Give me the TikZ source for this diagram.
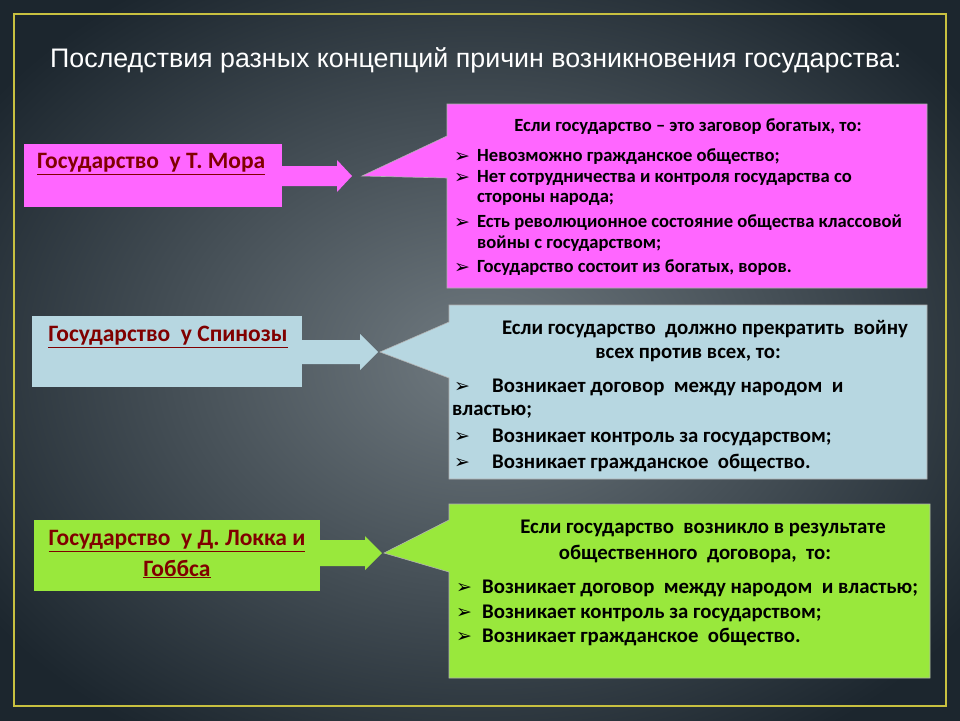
\documentclass[tikz,border=0pt]{standalone}
\usepackage{fontspec}
\setmainfont{Carlito}
\newfontfamily\titlefont{Liberation Sans}
\newfontfamily\symfont{DejaVu Sans}
\usetikzlibrary{shadings}
\definecolor{mag}{HTML}{FF66FF}
\definecolor{lblue}{HTML}{B7D7E1}
\definecolor{lgreen}{HTML}{99E83C}
\definecolor{dred}{HTML}{800000}
\definecolor{frame}{HTML}{C8C040}
\tikzset{
  lbl/.style={font=\bfseries\fontsize{23.5}{26}\selectfont, text=dred, inner sep=0pt},
  hd/.style={font=\bfseries\fontsize{18.6}{20}\selectfont, inner sep=0pt},
  it/.style={font=\bfseries\fontsize{18.6}{20}\selectfont, inner sep=0pt, anchor=west},
  hdb/.style={font=\bfseries\fontsize{20.8}{23}\selectfont, inner sep=0pt},
  itb/.style={font=\bfseries\fontsize{20.8}{23}\selectfont, inner sep=0pt, anchor=west},
  bul/.style={font=\symfont\bfseries\fontsize{19}{20}\selectfont, inner sep=0pt},
  bx/.style={draw=gray!60, line width=0.6pt}
}
\begin{document}
\begin{tikzpicture}[x=1pt,y=-1pt]
\useasboundingbox (0,0) rectangle (960,720);
\shade[inner color={rgb,255:red,112;green,122;blue,128}, outer color={rgb,255:red,28;green,38;blue,46}] (-120,-90) rectangle (1080,810);
\draw[frame, line width=1.5pt] (14,14) rectangle (946,706);
\node[font=\titlefont\fontsize{26.8}{30}\selectfont, text=white, inner sep=0pt, anchor=west] (title) at (50,60) {Последствия разных концепций причин возникновения государства:};

% row 1
\fill[mag] (24,144) rectangle (282,207);
\node[lbl, anchor=west] (l1) at (37,164) {\underline{Государство\ \ у Т. Мора}};
\fill[mag] (282,166) -- (337,166) -- (337,160) -- (352,176) -- (337,192) -- (337,186) -- (282,186) -- cycle;
\fill[mag, bx] (362,176) -- (447,136) -- (447,104) -- (927,104) -- (927,288) -- (447,288) -- (447,178) -- cycle;
\node[hd] (h1) at (688,127) {Если государство – это заговор богатых, то:};
\foreach \y in {157,178,223,268} \node[bul] at (462,\y) {➢};
\node[it] (a1) at (477,157) {Невозможно гражданское общество;};
\node[it] (a2) at (477,178) {Нет сотрудничества и контроля государства со};
\node[it] (a3) at (477,199) {стороны народа;};
\node[it] (a4) at (477,223) {Есть революционное состояние общества классовой};
\node[it] (a5) at (477,244) {войны с государством;};
\node[it] (a6) at (477,268) {Государство состоит из богатых, воров.};

% row 2
\fill[lblue] (32,316) rectangle (302,387);
\node[lbl] (l2) at (168,337) {\underline{Государство\ \ у Спинозы}};
\fill[lblue] (302,340) -- (360,340) -- (360,334) -- (378,352) -- (360,370) -- (360,364) -- (302,364) -- cycle;
\fill[lblue, bx] (380,352) -- (449,322) -- (449,305) -- (927,305) -- (927,479) -- (449,479) -- (449,378) -- cycle;
\node[hdb] (h2a) at (705,329) {Если государство\ \ должно прекратить\ \ войну};
\node[hdb] (h2b) at (688,355) {всех против всех, то:};
\foreach \y in {387,437,463} \node[bul] at (462,\y) {➢};
\node[itb] (b1) at (492,387) {Возникает договор\ \ между народом\ \ и};
\node[itb] (b2) at (452,412) {властью;};
\node[itb] (b3) at (492,437) {Возникает контроль за государством;};
\node[itb] (b4) at (492,463) {Возникает гражданское\ \ общество.};

% row 3
\fill[lgreen] (34,520) rectangle (320,591);
\node[lbl] (l3a) at (177,541) {\underline{Государство\ \ у Д. Локка и}};
\node[lbl] (l3b) at (177,569) {\underline{Гоббса}};
\fill[lgreen] (320,540) -- (365,540) -- (365,536) -- (382,553) -- (365,570) -- (365,566) -- (320,566) -- cycle;
\fill[lgreen, bx] (384,553) -- (449,520) -- (449,504) -- (930,504) -- (930,678) -- (449,678) -- (449,572) -- cycle;
\node[hdb] (h3a) at (703,528) {Если государство\ \ возникло в результате};
\node[hdb] (h3b) at (695,554) {общественного\ \ договора,\ \ то:};
\foreach \y in {588,613,637} \node[bul] at (464,\y) {➢};
\node[itb] (c1) at (482,588) {Возникает договор\ \ между народом\ \ и властью;};
\node[itb] (c2) at (482,613) {Возникает контроль за государством;};
\node[itb] (c3) at (482,637) {Возникает гражданское\ \ общество.};
\end{tikzpicture}
\end{document}
